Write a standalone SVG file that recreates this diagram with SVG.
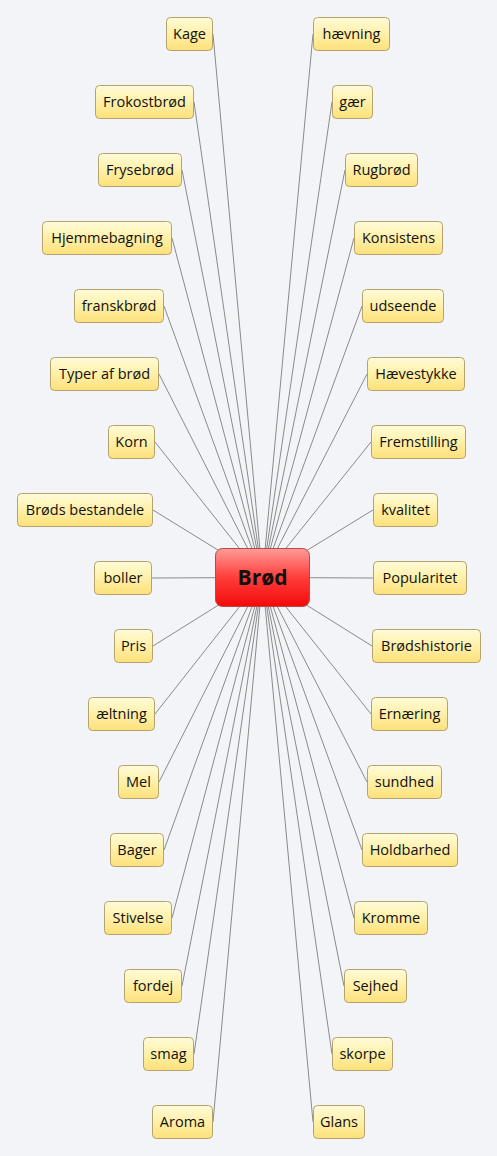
<svg xmlns="http://www.w3.org/2000/svg" width="497" height="1156" viewBox="0 0 497 1156">
<style>
.bg{fill:#f2f4f8}
.n rect{fill:url(#gy);stroke:#b3a36e;stroke-width:1}
.n text{font-family:"Open Sans","Noto Sans","Liberation Sans",sans-serif;font-size:14.5px;fill:#111;text-anchor:middle}
.c rect{fill:url(#gr);stroke:#b84a45;stroke-width:1}
.c text{font-family:"Open Sans","Noto Sans","Liberation Sans",sans-serif;font-size:21px;font-weight:bold;fill:#111;text-anchor:middle}
#connectors line{stroke:#8a8a8a;stroke-width:1}
</style>
<defs>
<linearGradient id="gy" x1="0" y1="0" x2="0" y2="1">
<stop offset="0" stop-color="#fffbd8"/>
<stop offset="0.5" stop-color="#fff0a8"/>
<stop offset="1" stop-color="#fde07a"/>
</linearGradient>
<linearGradient id="gr" x1="0" y1="0" x2="0" y2="1">
<stop offset="0" stop-color="#ff9c98"/>
<stop offset="0.5" stop-color="#ff3d3a"/>
<stop offset="1" stop-color="#f20a0a"/>
</linearGradient>
</defs>
<rect class="bg" x="0" y="0" width="497" height="1156"/>
<g id="connectors">
<line x1="262.5" y1="577.5" x2="213" y2="34"/>
<line x1="262.5" y1="577.5" x2="194" y2="102"/>
<line x1="262.5" y1="577.5" x2="182" y2="170"/>
<line x1="262.5" y1="577.5" x2="172" y2="238"/>
<line x1="262.5" y1="577.5" x2="164" y2="306"/>
<line x1="262.5" y1="577.5" x2="159" y2="374"/>
<line x1="262.5" y1="577.5" x2="155" y2="442"/>
<line x1="262.5" y1="577.5" x2="153" y2="510"/>
<line x1="262.5" y1="577.5" x2="152" y2="578"/>
<line x1="262.5" y1="577.5" x2="153" y2="646"/>
<line x1="262.5" y1="577.5" x2="155" y2="714"/>
<line x1="262.5" y1="577.5" x2="159" y2="782"/>
<line x1="262.5" y1="577.5" x2="164" y2="850"/>
<line x1="262.5" y1="577.5" x2="172" y2="918"/>
<line x1="262.5" y1="577.5" x2="182" y2="986"/>
<line x1="262.5" y1="577.5" x2="194" y2="1054"/>
<line x1="262.5" y1="577.5" x2="213" y2="1122"/>
<line x1="262.5" y1="577.5" x2="313" y2="34"/>
<line x1="262.5" y1="577.5" x2="332" y2="102"/>
<line x1="262.5" y1="577.5" x2="345" y2="170"/>
<line x1="262.5" y1="577.5" x2="354" y2="238"/>
<line x1="262.5" y1="577.5" x2="362" y2="306"/>
<line x1="262.5" y1="577.5" x2="367" y2="374"/>
<line x1="262.5" y1="577.5" x2="371" y2="442"/>
<line x1="262.5" y1="577.5" x2="373" y2="510"/>
<line x1="262.5" y1="577.5" x2="373" y2="578"/>
<line x1="262.5" y1="577.5" x2="372" y2="646"/>
<line x1="262.5" y1="577.5" x2="371" y2="714"/>
<line x1="262.5" y1="577.5" x2="367" y2="782"/>
<line x1="262.5" y1="577.5" x2="362" y2="850"/>
<line x1="262.5" y1="577.5" x2="354" y2="918"/>
<line x1="262.5" y1="577.5" x2="344" y2="986"/>
<line x1="262.5" y1="577.5" x2="332" y2="1054"/>
<line x1="262.5" y1="577.5" x2="313" y2="1122"/>
</g>
<g id="node-brod" class="c"><rect x="215.5" y="548.5" width="94" height="58" rx="7"/><text x="262.5" y="585">Brød</text></g>
<g id="node-kage" class="n"><rect x="166.5" y="17.5" width="46" height="33" rx="4"/><text x="189.5" y="39">Kage</text></g>
<g id="node-frokostbrod" class="n"><rect x="95.5" y="85.5" width="98" height="33" rx="4"/><text x="144.5" y="107">Frokostbrød</text></g>
<g id="node-frysebrod" class="n"><rect x="98.5" y="153.5" width="83" height="33" rx="4"/><text x="140" y="175">Frysebrød</text></g>
<g id="node-hjemmebagning" class="n"><rect x="42.5" y="221.5" width="129" height="33" rx="4"/><text x="107" y="243">Hjemmebagning</text></g>
<g id="node-franskbrod" class="n"><rect x="74.5" y="289.5" width="89" height="33" rx="4"/><text x="119" y="311">franskbrød</text></g>
<g id="node-typer" class="n"><rect x="50.5" y="357.5" width="108" height="33" rx="4"/><text x="104.5" y="379">Typer af brød</text></g>
<g id="node-korn" class="n"><rect x="108.5" y="425.5" width="46" height="33" rx="4"/><text x="131.5" y="447">Korn</text></g>
<g id="node-bestandele" class="n"><rect x="17.5" y="493.5" width="135" height="33" rx="4"/><text x="85" y="515">Brøds bestandele</text></g>
<g id="node-boller" class="n"><rect x="94.5" y="561.5" width="57" height="33" rx="4"/><text x="123" y="583">boller</text></g>
<g id="node-pris" class="n"><rect x="114.5" y="629.5" width="38" height="33" rx="4"/><text x="133.5" y="651">Pris</text></g>
<g id="node-aeltning" class="n"><rect x="88.5" y="697.5" width="66" height="33" rx="4"/><text x="121.5" y="719">æltning</text></g>
<g id="node-mel" class="n"><rect x="118.5" y="765.5" width="40" height="33" rx="4"/><text x="138.5" y="787">Mel</text></g>
<g id="node-bager" class="n"><rect x="110.5" y="833.5" width="53" height="33" rx="4"/><text x="137" y="855">Bager</text></g>
<g id="node-stivelse" class="n"><rect x="104.5" y="901.5" width="67" height="33" rx="4"/><text x="138" y="923">Stivelse</text></g>
<g id="node-fordej" class="n"><rect x="124.5" y="969.5" width="57" height="33" rx="4"/><text x="153" y="991">fordej</text></g>
<g id="node-smag" class="n"><rect x="143.5" y="1037.5" width="50" height="33" rx="4"/><text x="168.5" y="1059">smag</text></g>
<g id="node-aroma" class="n"><rect x="152.5" y="1105.5" width="60" height="33" rx="4"/><text x="182.5" y="1127">Aroma</text></g>
<g id="node-haevning" class="n"><rect x="313.5" y="17.5" width="76" height="33" rx="4"/><text x="351.5" y="39">hævning</text></g>
<g id="node-gaer" class="n"><rect x="332.5" y="85.5" width="40" height="33" rx="4"/><text x="352.5" y="107">gær</text></g>
<g id="node-rugbrod" class="n"><rect x="345.5" y="153.5" width="72" height="33" rx="4"/><text x="381.5" y="175">Rugbrød</text></g>
<g id="node-konsistens" class="n"><rect x="354.5" y="221.5" width="88" height="33" rx="4"/><text x="398.5" y="243">Konsistens</text></g>
<g id="node-udseende" class="n"><rect x="362.5" y="289.5" width="81" height="33" rx="4"/><text x="403" y="311">udseende</text></g>
<g id="node-haevestykke" class="n"><rect x="367.5" y="357.5" width="97" height="33" rx="4"/><text x="416" y="379">Hævestykke</text></g>
<g id="node-fremstilling" class="n"><rect x="371.5" y="425.5" width="94" height="33" rx="4"/><text x="418.5" y="447">Fremstilling</text></g>
<g id="node-kvalitet" class="n"><rect x="373.5" y="493.5" width="64" height="33" rx="4"/><text x="405.5" y="515">kvalitet</text></g>
<g id="node-popularitet" class="n"><rect x="373.5" y="561.5" width="93" height="33" rx="4"/><text x="420" y="583">Popularitet</text></g>
<g id="node-brodshistorie" class="n"><rect x="372.5" y="629.5" width="108" height="33" rx="4"/><text x="426.5" y="651">Brødshistorie</text></g>
<g id="node-ernaering" class="n"><rect x="371.5" y="697.5" width="76" height="33" rx="4"/><text x="409.5" y="719">Ernæring</text></g>
<g id="node-sundhed" class="n"><rect x="367.5" y="765.5" width="74" height="33" rx="4"/><text x="404.5" y="787">sundhed</text></g>
<g id="node-holdbarhed" class="n"><rect x="362.5" y="833.5" width="95" height="33" rx="4"/><text x="410" y="855">Holdbarhed</text></g>
<g id="node-kromme" class="n"><rect x="354.5" y="901.5" width="73" height="33" rx="4"/><text x="391" y="923">Kromme</text></g>
<g id="node-sejhed" class="n"><rect x="344.5" y="969.5" width="62" height="33" rx="4"/><text x="375.5" y="991">Sejhed</text></g>
<g id="node-skorpe" class="n"><rect x="332.5" y="1037.5" width="60" height="33" rx="4"/><text x="362.5" y="1059">skorpe</text></g>
<g id="node-glans" class="n"><rect x="313.5" y="1105.5" width="51" height="33" rx="4"/><text x="339" y="1127">Glans</text></g>
</svg>
